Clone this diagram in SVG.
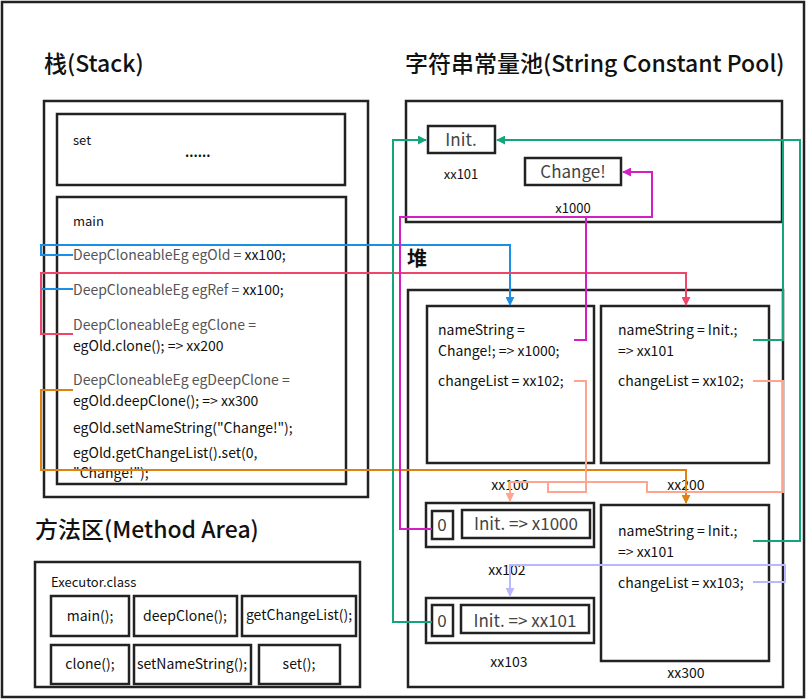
<svg xmlns="http://www.w3.org/2000/svg" width="807" height="700" viewBox="0 0 807 700">
<style>
text{font-family:"Noto Sans CJK SC","Noto Sans",sans-serif;fill:#111}
.b{fill:#fff;stroke:#222;stroke-width:2.5}
.t{font-size:23px;font-weight:500}
.s{font-size:13px}
.m{font-size:14px}
.g{fill:#555}
.big{font-size:17px;fill:#444}
.c{fill:none;stroke-width:2}
</style>
<defs>
<marker id="a" viewBox="0 0 10 10" refX="9" refY="5" markerWidth="4.5" markerHeight="4.5" orient="auto"><path d="M0,0L10,5L0,10z" fill="context-stroke"/></marker>
</defs>
<rect x="2" y="2" width="802" height="695" fill="#fff" stroke="#222" stroke-width="2.5"/>
<g id="stack">
<text x="44" y="72" class="t">栈(Stack)</text>
<rect class="b" x="44" y="101" width="324" height="396"/>
</g>
<g id="set"><rect class="b" x="57" y="114" width="288" height="71"/>
<text x="73" y="145" class="s">set</text><text x="185" y="157" class="s" style="font-weight:bold">......</text></g>
<g id="main"><rect class="b" x="57" y="197" width="289" height="287"/>
<text x="73" y="226" class="s">main</text>
<text x="73" y="260" class="m"><tspan class="g">DeepCloneableEg egOld = </tspan>xx100;</text>
<text x="73" y="295" class="m"><tspan class="g">DeepCloneableEg egRef =  </tspan>xx100;</text>
<text x="73" y="330" class="m g">DeepCloneableEg egClone =</text>
<text x="73" y="351" class="m">egOld.clone(); =&gt; xx200</text>
<text x="73" y="385" class="m g">DeepCloneableEg egDeepClone =</text>
<text x="73" y="406" class="m">egOld.deepClone(); =&gt; xx300</text>
<text x="73" y="433" class="m">egOld.setNameString("Change!");</text>
<text x="73" y="458" class="m">egOld.getChangeList().set(0,</text>
<text x="73" y="478" class="m">"Change!");</text></g>
<g id="method">
<text x="35" y="538" class="t">方法区(Method Area)</text>
<rect class="b" x="35" y="562" width="325" height="125"/>
<text x="51" y="587" class="s">Executor.class</text>
<rect class="b" x="51" y="596" width="78" height="40"/><text x="90" y="621" class="m" text-anchor="middle">main();</text>
<rect class="b" x="134" y="596" width="103" height="40"/><text x="185" y="621" class="m" text-anchor="middle">deepClone();</text>
<rect class="b" x="242" y="596" width="114" height="40"/><text x="299" y="620" class="m" text-anchor="middle">getChangeList();</text>
<rect class="b" x="51" y="645" width="78" height="39"/><text x="90" y="669" class="m" text-anchor="middle">clone();</text>
<rect class="b" x="134" y="645" width="117" height="39"/><text x="192" y="669" class="m" text-anchor="middle">setNameString();</text>
<rect class="b" x="259" y="645" width="81" height="39"/><text x="299" y="669" class="m" text-anchor="middle">set();</text>
</g>
<g id="pool">
<text x="405" y="72" class="t">字符串常量池(String Constant Pool)</text>
<rect class="b" x="406" y="101" width="376" height="121"/>
<rect class="b" x="428" y="126" width="67" height="27"/><text x="461" y="146" class="big" text-anchor="middle">Init.</text>
<text x="461" y="179" class="s" text-anchor="middle">xx101</text>
<rect class="b" x="525" y="158" width="96" height="27"/><text x="573" y="178" class="big" text-anchor="middle">Change!</text>
<text x="573" y="213" class="s" text-anchor="middle">x1000</text>
</g>
<g id="heap">
<text x="407" y="266" style="font-size:20px;font-weight:bold">堆</text>
<rect class="b" x="408" y="290" width="375" height="397"/>
</g>
<g id="xx100"><rect class="b" x="427" y="306" width="167" height="157"/>
<text x="438" y="335" class="m">nameString =</text><text x="438" y="356" class="m">Change!; =&gt; x1000;</text>
<text x="438" y="386" class="m">changeList = xx102;</text>
<text x="510" y="490" class="m" text-anchor="middle">xx100</text></g>
<g id="xx200"><rect class="b" x="601" y="306" width="168" height="157"/>
<text x="618" y="335" class="m">nameString = Init.;</text><text x="618" y="356" class="m">=&gt; xx101</text>
<text x="618" y="386" class="m">changeList = xx102;</text>
<text x="686" y="490" class="m" text-anchor="middle">xx200</text></g>
<g id="xx300"><rect class="b" x="601" y="505" width="168" height="156"/>
<text x="618" y="536" class="m">nameString = Init.;</text><text x="618" y="557" class="m">=&gt; xx101</text>
<text x="618" y="588" class="m">changeList = xx103;</text>
<text x="686" y="678" class="m" text-anchor="middle">xx300</text></g>
<g id="xx102"><rect class="b" x="426" y="503" width="168" height="44"/>
<rect class="b" x="432" y="511" width="21" height="28"/><text x="442" y="531" class="big" text-anchor="middle">0</text>
<rect class="b" x="462" y="510" width="128" height="28"/><text x="526" y="530" class="big" text-anchor="middle">Init. =&gt; x1000</text>
<text x="507" y="575" class="m" text-anchor="middle">xx102</text></g>
<g id="xx103"><rect class="b" x="426" y="598" width="168" height="45"/>
<rect class="b" x="432" y="605" width="21" height="31"/><text x="442" y="627" class="big" text-anchor="middle">0</text>
<rect class="b" x="461" y="605" width="128" height="28"/><text x="525" y="627" class="big" text-anchor="middle">Init. =&gt; xx101</text>
<text x="509" y="667" class="m" text-anchor="middle">xx103</text></g>
<g id="connectors">
<path class="c" stroke="#1a8fe3" d="M73,255H41V245H510V305" marker-end="url(#a)"/>
<path class="c" stroke="#1a8fe3" d="M42,289H73"/>
<path class="c" stroke="#f0456b" d="M73,334H41V273H686V305" marker-end="url(#a)"/>
<path class="c" stroke="#e0820f" d="M73,390H41V470H686V503" marker-end="url(#a)"/>
<path class="c" stroke="#14a67a" d="M753,340H783V140H497" marker-end="url(#a)"/>
<path class="c" stroke="#14a67a" d="M753,541H800V140H783"/>
<path class="c" stroke="#14a67a" d="M432,622H393V140H426" marker-end="url(#a)"/>
<path class="c" stroke="#d21fc4" d="M574,340H586V217H652V172H623" marker-end="url(#a)"/>
<path class="c" stroke="#d21fc4" d="M586,217H400V529H432"/>
<path class="c" stroke="#ffa58f" d="M574,381H586V492H548V482H510V501" marker-end="url(#a)"/>
<path class="c" stroke="#ffa58f" d="M753,381H783V492H647V482H548"/>
<path class="c" stroke="#b8b8ff" d="M753,582H785V565H510V596" marker-end="url(#a)"/>
</g>
</svg>
